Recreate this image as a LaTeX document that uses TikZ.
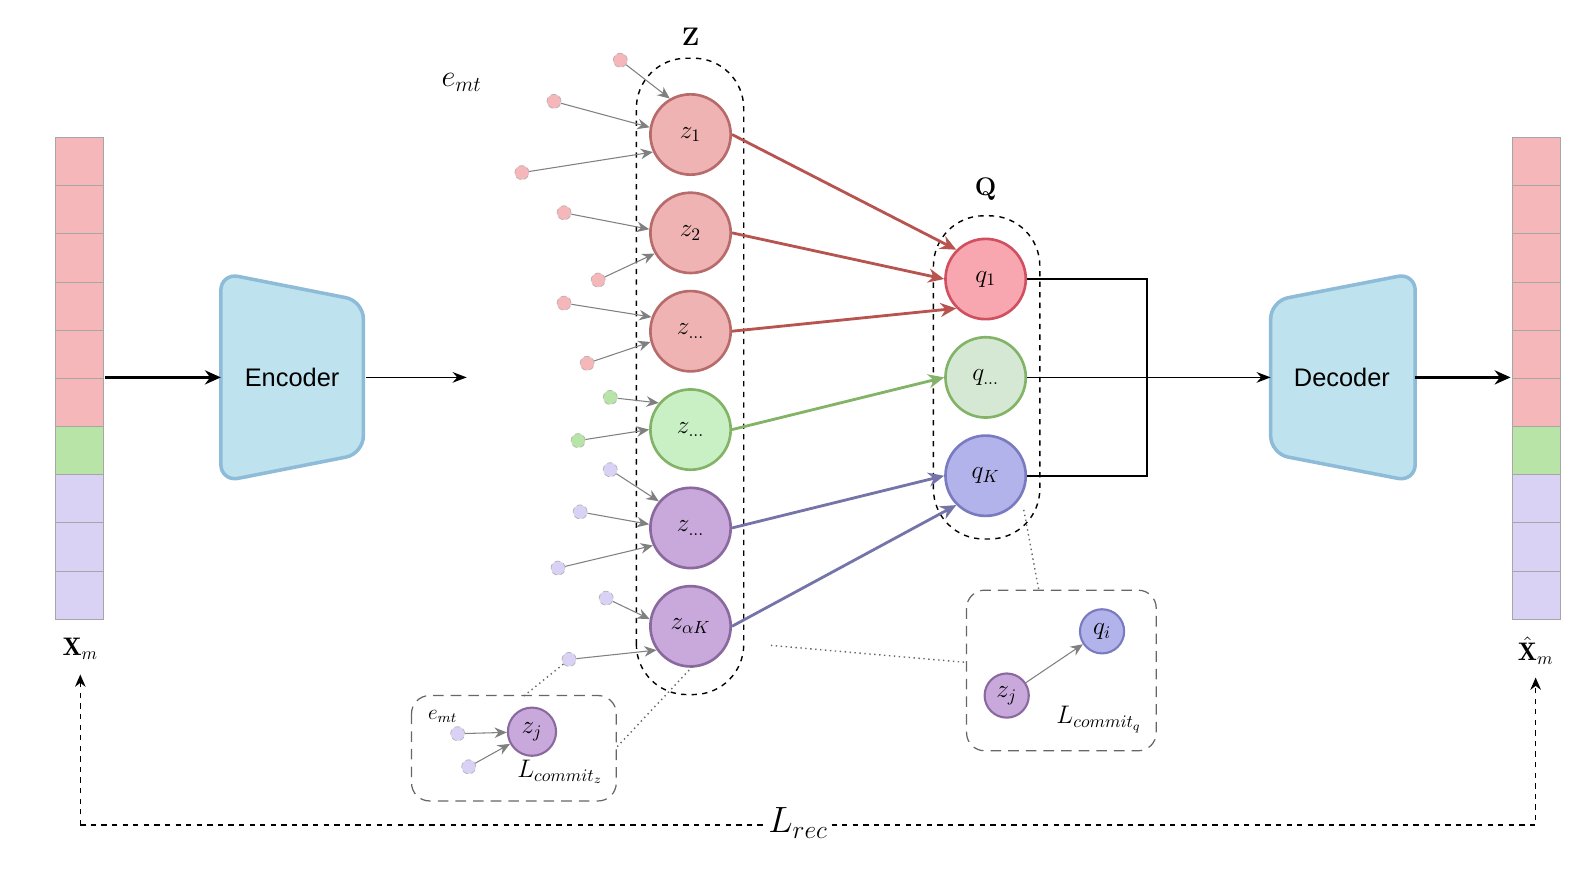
\documentclass[tikz,border=0pt]{standalone}
\usepackage{fontspec}
\newfontfamily\encfont{Liberation Sans}
\usetikzlibrary{arrows.meta}
\definecolor{cred}{HTML}{F5B7B9}\definecolor{cgreen}{HTML}{B9E4A8}\definecolor{cpur}{HTML}{D9D2F5}
\definecolor{zr}{HTML}{F0B3B3}\definecolor{zrs}{HTML}{B76B6B}
\definecolor{zg}{HTML}{C9F0C5}\definecolor{zgs}{HTML}{82B366}
\definecolor{zp}{HTML}{C9A9DC}\definecolor{zps}{HTML}{8A6A9E}
\definecolor{qr}{HTML}{F8A7B0}\definecolor{qrs}{HTML}{D05060}
\definecolor{qg}{HTML}{D5E8D4}
\definecolor{qb}{HTML}{B3B3EC}\definecolor{qbs}{HTML}{7A7AC0}
\definecolor{encf}{HTML}{BFE3EE}\definecolor{encs}{HTML}{8DBBD8}
\definecolor{ar}{HTML}{B85450}\definecolor{ag}{HTML}{82B366}\definecolor{ab}{HTML}{7474A8}
\tikzset{
 zn/.style={circle,minimum size=80*0.02cm,inner sep=0,line width=1.5pt,font=\Large},
 qn/.style={circle,minimum size=80*0.02cm,inner sep=0,line width=1.5pt,font=\Large},
 dot/.style={circle,minimum size=14*0.02cm,inner sep=0,draw=gray!60,densely dashed,line width=0.4pt},
 ein/.style={-{Stealth[length=7pt,width=6pt]},gray,line width=0.6pt},
 big/.style={-{Stealth[length=9pt,width=8pt]},line width=1.5pt},
 cell/.style={draw=gray!70,line width=0.6pt},
 cont/.style={draw,dashed,line width=0.8pt,rounded corners=50*0.02cm},
 box/.style={draw=gray!80!black,dash pattern=on 6pt off 4pt,line width=0.7pt,rounded corners=18*0.02cm},
 dotl/.style={dotted,line width=0.8pt,gray!80!black},
}
\begin{document}
\begin{tikzpicture}[x=0.02cm,y=-0.02cm]
\useasboundingbox (0,0) rectangle (1572.2,876.8);
% bars
\foreach \xa in {55,1507}{
 \foreach \i in {0,...,5}{\fill[cred] (\xa,137+48*\i) rectangle ++(48,48);}
 \fill[cgreen] (\xa,425) rectangle ++(48,48);
 \foreach \i in {0,1,2}{\fill[cpur] (\xa,473+48*\i) rectangle ++(48,48);}
 \foreach \i in {0,...,9}{\draw[cell] (\xa,137+48*\i) rectangle ++(48,48);}
}
\node[font=\Large] (xm) at (80,646) {$\mathbf{X}_m$};
\node[font=\Large] (xh) at (1530,648) {$\hat{\mathbf{X}}_m$};
% encoder / decoder
\draw[encs,fill=encf,line width=2pt,rounded corners=10pt] (220,272) -- (362,300) -- (362,452) -- (220,480) -- cycle;
\node[font=\encfont\Large] (enc) at (291,376) {Encoder};
\draw[encs,fill=encf,line width=2pt,rounded corners=10pt] (1266,300) -- (1410,272) -- (1410,480) -- (1266,452) -- cycle;
\node[font=\encfont\Large] (dec) at (1337,376) {Decoder};
\coordinate (encL) at (220,376); \coordinate (encR) at (365,376);
\coordinate (encT) at (465,376); \coordinate (decL) at (1266,376);
\coordinate (decR) at (1410,376); \coordinate (barL) at (105,376); \coordinate (barR) at (1505,376);
\draw[big] (barL) -- (encL);
\draw[-{Stealth[length=8pt,width=6pt]},line width=1pt] (encR) -- (encT);
\draw[big] (decR) -- (barR);
% Z container
\draw[cont] (634,692) -- (634,58) -- (741,58) -- (741,692) -- cycle;
\node[font=\Large\bfseries] (zl) at (688,37) {Z};
\node[zn,fill=zr,draw=zrs] (z1) at (688,134) {$z_1$};
\node[zn,fill=zr,draw=zrs] (z2) at (688,232) {$z_2$};
\node[zn,fill=zr,draw=zrs] (z3) at (688,330) {$z_{\dots}$};
\node[zn,fill=zg,draw=zgs] (z4) at (688,428) {$z_{\dots}$};
\node[zn,fill=zp,draw=zps] (z5) at (688,526) {$z_{\dots}$};
\node[zn,fill=zp,draw=zps] (z6) at (688,624) {$z_{\alpha K}$};
% Q container
\draw[cont] (930,537) -- (930,215) -- (1036,215) -- (1036,537) -- cycle;
\node[font=\Large\bfseries] (ql) at (982,188) {Q};
\node[qn,fill=qr,draw=qrs] (q1) at (982,278) {$q_1$};
\node[qn,fill=qg,draw=zgs] (q2) at (982,376) {$q_{\dots}$};
\node[qn,fill=qb,draw=qbs] (q3) at (982,474) {$q_K$};
% z->q
\draw[big,ar,line width=1.6pt] (z1.east) -- (q1.north west);
\draw[big,ar,line width=1.6pt] (z2.east) -- (q1.west);
\draw[big,ar,line width=1.6pt] (z3.east) -- (q1.south west);
\draw[big,ag,line width=1.6pt] (z4.east) -- (q2.west);
\draw[big,ab,line width=1.6pt] (z5.east) -- (q3.west);
\draw[big,ab,line width=1.6pt] (z6.east) -- (q3.south west);
% q -> decoder
\coordinate (j1) at (1143,278); \coordinate (j3) at (1143,474);
\draw[line width=0.9pt] (q1.east) -- (j1) -- (j3) -- (q3.east);
\draw[-{Stealth[length=8pt,width=6pt]},line width=0.9pt] (q2.east) -- (decL);
% e_mt dots
\node[font=\LARGE] (emt) at (460,82) {$e_{mt}$};
\foreach \n/\x/\y/\t/\c in {a/618/60/z1.120/cred,b/552/101/z1.170/cred,c/520/172/z1.205/cred,
 d/562/212/z2.175/cred,e/596/279/z2.210/cred,f/562/302/z3.160/cred,g/585/362/z3.195/cred,
 h/608/396/z4.140/cgreen,i/576/439/z4.180/cgreen,
 j/608/468/z5.140/cpur,k/578/510/z5.175/cpur,l/556/566/z5.205/cpur,m/604/596/z6.170/cpur,n/567/657/z6.215/cpur}{
 \node[dot,fill=\c] (e\n) at (\x,\y) {};
 \draw[ein] (e\n) -- (\t);
}
% bottom-left box
\draw[box] (410,693) rectangle (614,798);
\node[font=\large,inner sep=1pt] (emt2) at (441,714) {$e_{mt}$};
\node[circle,minimum size=48*0.02cm,inner sep=0,fill=zp,draw=zps,line width=1.2pt,font=\Large] (zj) at (530,729) {$z_j$};
\node[dot,fill=cpur] (b1) at (456,731) {};
\node[dot,fill=cpur] (b2) at (467,764) {};
\draw[ein] (b1) -- (zj); \draw[ein] (b2) -- (zj);
\node[font=\Large] (lcz) at (558,769) {$L_{commit_z}$};
\coordinate (bl1) at (520,695); \coordinate (bl2) at (614,745); \coordinate (zb) at (690,664);
\draw[dotl] (en) -- (bl1);
\draw[dotl] (zb) -- (bl2);
% right box
\draw[box] (963,588) rectangle (1152,748);
\node[circle,minimum size=44*0.02cm,inner sep=0,fill=qb,draw=qbs,line width=1.2pt,font=\Large] (qi) at (1098,629) {$q_i$};
\node[circle,minimum size=44*0.02cm,inner sep=0,fill=zp,draw=zps,line width=1.2pt,font=\Large] (zj2) at (1003,693) {$z_j$};
\draw[ein] (zj2) -- (qi);
\node[font=\Large] (lcq) at (1095,717) {$L_{commit_q}$};
\coordinate (rb1) at (1020,508); \coordinate (rb2) at (1035,588);
\coordinate (rb3) at (768,643); \coordinate (rb4) at (963,660);
\draw[dotl] (rb1) -- (rb2); \draw[dotl] (rb3) -- (rb4);
% L_rec
\coordinate (c1) at (80,822); \coordinate (c2) at (1530,822);
\coordinate (t1) at (80,672); \coordinate (t2) at (1530,675);
\draw[dashed,line width=0.8pt,-{Stealth[length=7pt,width=6pt]}] (c1) -- (t1);
\draw[dashed,line width=0.8pt,-{Stealth[length=7pt,width=6pt]}] (c1) -- (c2) -- (t2);
\node[font=\huge,fill=white,inner sep=2pt] (lrec) at (795,820) {$L_{rec}$};
\end{tikzpicture}
\end{document}
